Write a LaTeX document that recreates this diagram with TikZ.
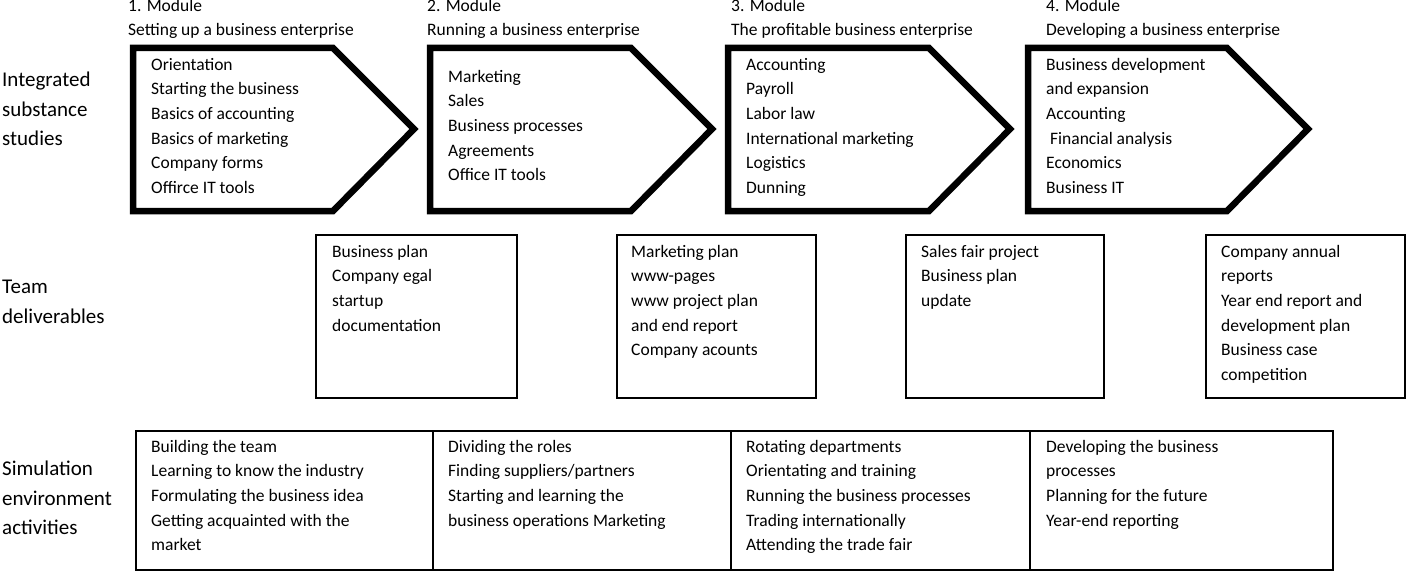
\documentclass[tikz,border=0pt]{standalone}
\usepackage{fontspec}
\setmainfont{Carlito}
\begin{document}
\begin{tikzpicture}[x=1pt,y=-1pt,
  arr/.style={draw,line width=6.5pt,miter limit=10,line join=miter},
  box/.style={draw,line width=1.8pt},
  txt/.style={anchor=north west,inner sep=0pt,align=left,font=\fontsize{17.5}{24.6}\selectfont},
  lab/.style={anchor=north west,inner sep=0pt,align=left,font=\fontsize{21}{29.5}\selectfont}]
\useasboundingbox (0,0) rectangle (1407,572);
% arrows
\foreach \i/\l/\t in {1/133/414,2/430/712,3/728/1010,4/1028/1308}{
  \draw[arr] (\l,48) -- (\t-81,48) -- (\t,129) -- (\t-81,211) -- (\l,211) -- cycle;
}
% module titles
\node[txt] (m1) at (128,-1) {1. Module\\Setting up a business enterprise};
\node[txt] (m2) at (427,-1) {2. Module\\Running a business enterprise};
\node[txt] (m3) at (731,-1) {3. Module\\The profitable business enterprise};
\node[txt] (m4) at (1046,-1) {4. Module\\Developing a business enterprise};
% arrow contents
\node[txt] (a1) at (151,58) {Orientation\\Starting the business\\Basics of accounting\\Basics of marketing\\Company forms\\Offirce IT tools};
\node[txt] (a2) at (448,70) {Marketing\\Sales\\Business processes\\Agreements\\Office IT tools};
\node[txt] (a3) at (746,58) {Accounting\\Payroll\\Labor law\\International marketing\\Logistics\\Dunning};
\node[txt] (a4) at (1046,58) {Business development\\and expansion\\Accounting\\\ Financial analysis\\Economics\\Business IT};
% deliverables
\draw[box] (316,235) rectangle (517,398);
\draw[box] (617,235) rectangle (816,398);
\draw[box] (906,235) rectangle (1104,398);
\draw[box] (1206,235) rectangle (1405,398);
\node[txt] (d1) at (332,245) {Business plan\\Company egal\\startup\\documentation};
\node[txt] (d2) at (631,245) {Marketing plan\\www-pages\\www project plan\\and end report\\Company acounts};
\node[txt] (d3) at (921,245) {Sales fair project\\Business plan\\update};
\node[txt] (d4) at (1221,245) {Company annual\\reports\\Year end report and\\development plan\\Business case\\competition};
% simulation
\draw[box] (136,431) rectangle (1333,570);
\draw[box] (433,431) -- (433,570) (731,431) -- (731,570) (1030,431) -- (1030,570);
\node[txt] (s1) at (151,440) {Building the team\\Learning to know the industry\\Formulating the business idea\\Getting acquainted with the\\market};
\node[txt] (s2) at (448,440) {Dividing the roles\\Finding suppliers/partners\\Starting and learning the\\business operations Marketing};
\node[txt] (s3) at (746,440) {Rotating departments\\Orientating and training\\Running the business processes\\Trading internationally\\Attending the trade fair};
\node[txt] (s4) at (1046,440) {Developing the business\\processes\\Planning for the future\\Year-end reporting};
% row labels
\node[lab] (l1) at (2,72) {Integrated\\substance\\studies};
\node[lab] (l2) at (2,280) {Team\\deliverables};
\node[lab] (l3) at (2,461) {Simulation\\environment\\activities};
\end{tikzpicture}
\end{document}
